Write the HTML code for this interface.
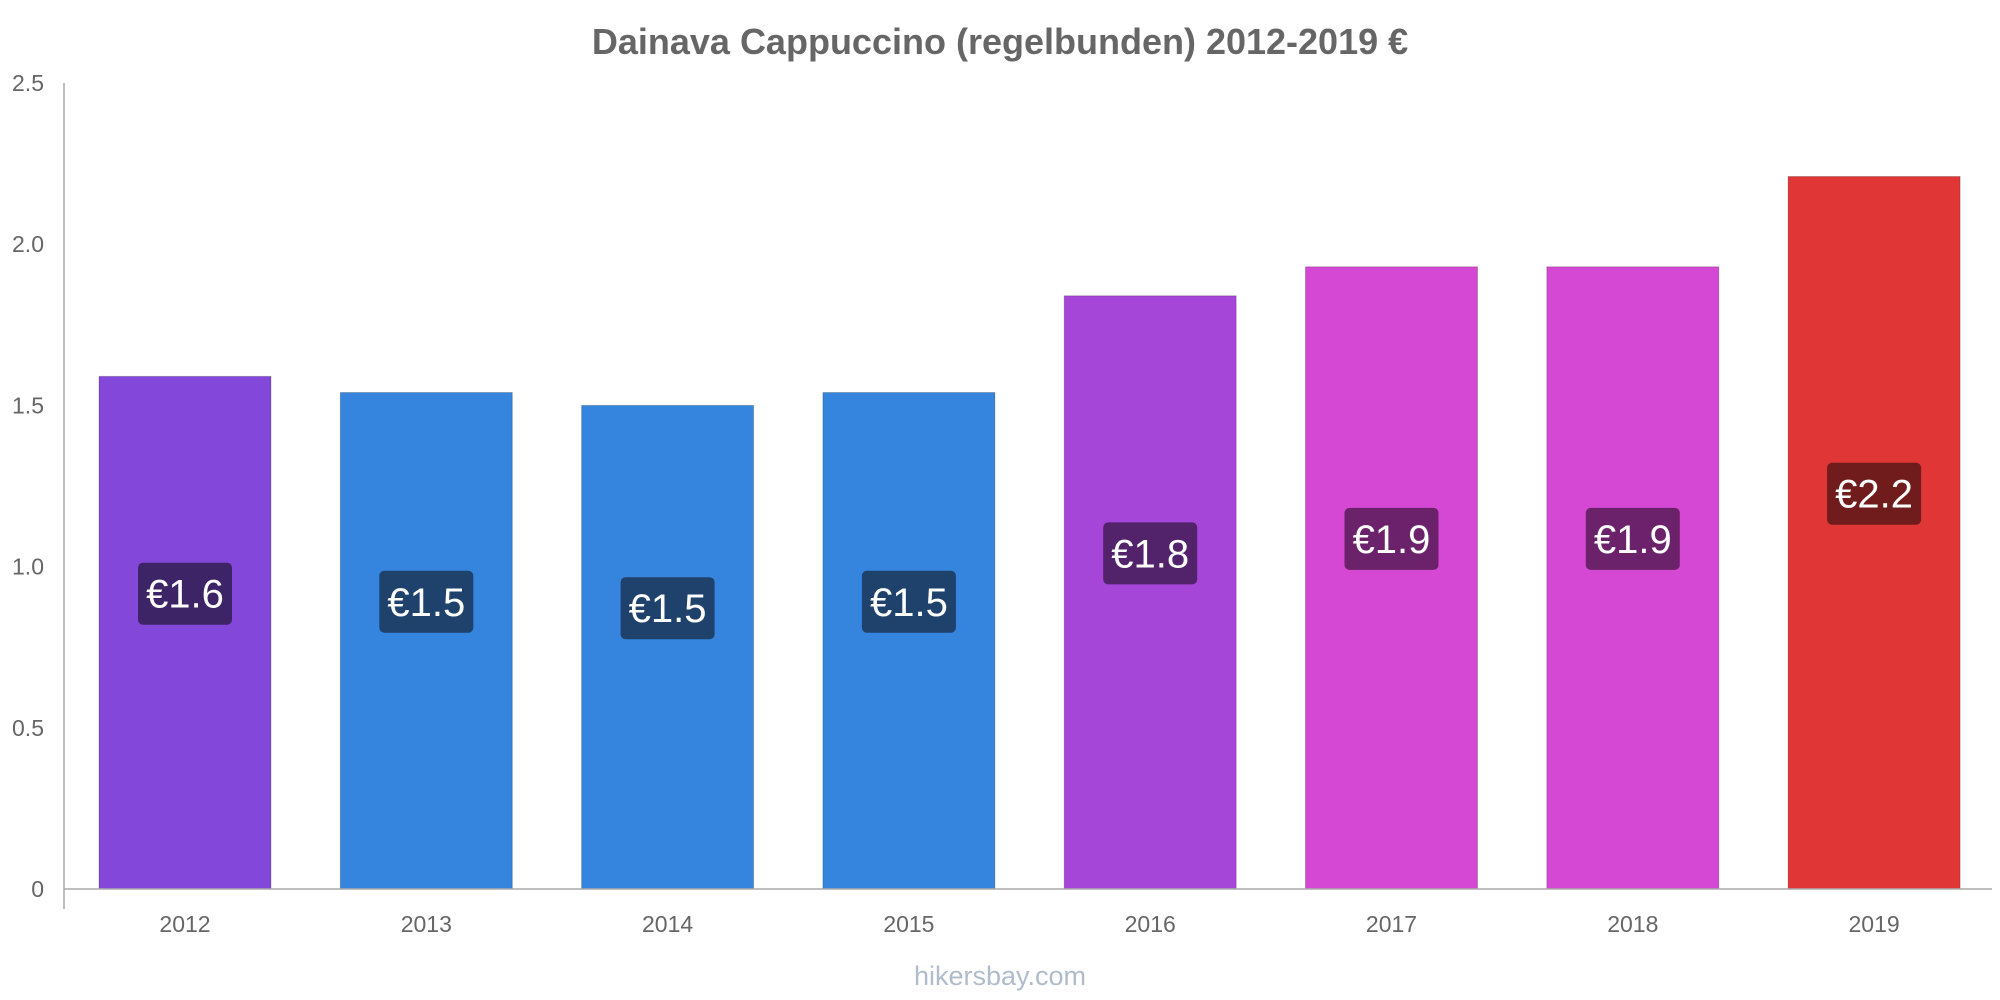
<!DOCTYPE html>
<html><head><meta charset="utf-8"><style>
body{margin:0;background:#fff;font-family:"Liberation Sans",sans-serif}
svg{display:block}
</style></head><body>
<svg width="2000" height="1000">
<text x="1000" y="54" text-anchor="middle" font-size="36" font-weight="bold" fill="#666">Dainava Cappuccino (regelbunden) 2012-2019 €</text>
<g id="yaxis"></g>
<g id="bars"></g>
<g id="xaxis"></g>
<text x="1000" y="985" text-anchor="middle" font-size="27" fill="#b0bccc">hikersbay.com</text>
</svg>
<script>
const categories=["2012","2013","2014","2015","2016","2017","2018","2019"];
const values=[1.59,1.54,1.50,1.54,1.84,1.93,1.93,2.21];
const valueLabels=["€1.6","€1.5","€1.5","€1.5","€1.8","€1.9","€1.9","€2.2"];
const yTicks=[0,0.5,1,1.5,2,2.5];
const yTickLabels=["0","0.5","1.0","1.5","2.0","2.5"];
const barColors=["#8347d9","#3584de","#3584de","#3584de","#a646d9","#d548d4","#d548d4","#e03636"];
const labelColors=["#3d2466","#1e426b","#1e426b","#1e426b","#52226b","#6b226b","#6b226b","#701c1c"];
const NS="http://www.w3.org/2000/svg";
const y0=889,yTop=83,yMax=2.5,x0=64,step=241.3,bw=172;
const Y=v=>y0-(v/yMax)*(y0-yTop);
const XC=i=>185+i*step;
function mk(t,a,p){const e=document.createElementNS(NS,t);for(const k in a)e.setAttribute(k,a[k]);p.appendChild(e);return e;}
const ya=document.getElementById('yaxis'),bg=document.getElementById('bars'),xa=document.getElementById('xaxis');
let l=mk('line',{x1:x0,y1:yTop,x2:x0,y2:909,stroke:'#aaa','stroke-width':1.5},ya);


yTicks.forEach((v,i)=>{
 const t=mk('text',{x:44,y:Y(v)+8,'text-anchor':'end','font-size':23,fill:'#666'},ya);
 t.textContent=yTickLabels[i];
 
 
});
categories.forEach((c,i)=>{
 const r=mk('rect',{x:XC(i)-bw/2,y:Y(values[i]),width:bw,height:y0-Y(values[i]),fill:barColors[i],stroke:'rgba(0,0,0,0.2)','stroke-width':1},bg);
 
 
 const cy=Y(values[i]/2)-39;
 const b=mk('rect',{x:XC(i)-47,y:cy-31,width:94,height:62,rx:5,fill:labelColors[i]},bg);
 
 
 const t=mk('text',{x:XC(i),y:cy+14,'text-anchor':'middle','font-size':40,fill:'#fff'},bg);
 t.textContent=valueLabels[i];
 
 
 const xt=mk('text',{x:XC(i),y:932,'text-anchor':'middle','font-size':23,fill:'#666'},xa);
 xt.textContent=c;
 
 
});
l=mk('line',{x1:x0,y1:y0,x2:1992,y2:y0,stroke:'#aaa','stroke-width':1.5},xa);


</script>
</body></html>
